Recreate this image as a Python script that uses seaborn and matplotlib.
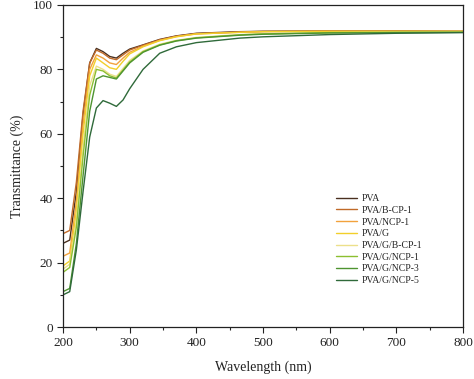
import numpy as np
import pandas as pd
import matplotlib
matplotlib.use("Agg")
import matplotlib.pyplot as plt
import seaborn as sns
from matplotlib.ticker import MultipleLocator

wavelength = [200, 210, 220, 230, 240, 250, 260, 270, 280, 290, 300, 320, 345, 370, 400, 465, 500, 600, 700, 800]

labels = ["PVA", "PVA/B-CP-1", "PVA/NCP-1", "PVA/G", "PVA/G/B-CP-1",
          "PVA/G/NCP-1", "PVA/G/NCP-3", "PVA/G/NCP-5"]

pva        = [26.0, 27.0, 42.0, 66.0, 82.0, 86.5, 85.5, 84.0, 83.5, 85.0, 86.3, 87.6, 89.3, 90.4, 91.2, 91.7, 91.8, 91.9, 91.9, 91.8]
pva_bcp1   = [29.0, 30.0, 45.0, 67.0, 82.0, 86.0, 85.0, 83.5, 83.0, 84.5, 86.0, 87.5, 89.2, 90.3, 91.1, 91.6, 91.8, 91.9, 91.9, 91.8]
pva_ncp1   = [22.0, 23.0, 39.0, 63.0, 80.0, 84.5, 83.5, 82.0, 81.5, 83.5, 85.3, 87.2, 89.0, 90.2, 91.0, 91.5, 91.7, 91.8, 91.8, 91.8]
pva_g      = [19.0, 20.5, 36.0, 60.0, 78.0, 83.5, 82.0, 80.5, 80.0, 82.5, 84.8, 87.0, 88.9, 90.1, 91.0, 91.5, 91.7, 91.8, 91.8, 91.8]
pva_g_bcp1 = [18.0, 19.5, 33.0, 56.0, 75.0, 81.0, 80.0, 78.5, 77.8, 80.3, 82.8, 85.7, 87.8, 89.0, 89.9, 90.8, 91.1, 91.4, 91.5, 91.5]
pva_g_ncp1 = [17.0, 18.5, 31.0, 53.0, 72.0, 80.0, 79.5, 78.0, 77.3, 79.8, 82.3, 85.5, 87.6, 88.9, 89.8, 90.7, 91.0, 91.4, 91.5, 91.5]
pva_g_ncp3 = [11.0, 12.0, 26.0, 47.0, 67.0, 77.0, 78.0, 77.5, 77.0, 79.5, 82.0, 85.3, 87.5, 88.8, 89.7, 90.6, 90.9, 91.3, 91.4, 91.5]
pva_g_ncp5 = [10.0, 11.0, 24.0, 42.0, 59.0, 68.0, 70.3, 69.5, 68.5, 70.5, 74.0, 80.0, 85.0, 87.0, 88.3, 89.7, 90.1, 90.8, 91.2, 91.4]

series = [pva, pva_bcp1, pva_ncp1, pva_g, pva_g_bcp1, pva_g_ncp1, pva_g_ncp3, pva_g_ncp5]
colors = ["#4a3020", "#c06a28", "#f2a23c", "#f2cf2a", "#ece08a",
          "#8cbf30", "#4e9430", "#2f6a3a"]

rows = []
for lab, vals in zip(labels, series):
    for w, v in zip(wavelength, vals):
        rows.append({"Wavelength": w, "T": v, "Sample": lab})
df = pd.DataFrame(rows)

sns.set_style("ticks")
plt.rcParams["font.family"] = ["Liberation Serif", "DejaVu Serif"]

fig = plt.figure(figsize=(4.74, 3.79), dpi=100)
ax = fig.add_axes([0.133, 0.137, 0.844, 0.85])

sns.lineplot(data=df, x="Wavelength", y="T", hue="Sample", hue_order=labels,
             palette=colors, linewidth=1.0, ax=ax, legend=True)

ax.set_xlim(200, 800)
ax.set_ylim(0, 100)
ax.xaxis.set_major_locator(MultipleLocator(100))
ax.xaxis.set_minor_locator(MultipleLocator(50))
ax.yaxis.set_major_locator(MultipleLocator(20))
ax.yaxis.set_minor_locator(MultipleLocator(10))
ax.tick_params(axis="both", which="major", direction="out", length=4, width=0.8, labelsize=9.5, colors="#222222")
ax.tick_params(axis="both", which="minor", direction="out", length=2.5, width=0.8)
for s in ax.spines.values():
    s.set_visible(True)
    s.set_linewidth(0.9)
    s.set_color("#222222")

ax.set_xlabel("Wavelength (nm)", fontsize=10, color="#222222", labelpad=8)
ax.set_ylabel("Transmittance (%)", fontsize=10, color="#222222", labelpad=6)

leg = ax.legend(loc="upper left", bbox_to_anchor=(0.66, 0.44), frameon=False,
                fontsize=7, handlelength=2.2, labelspacing=0.28, handletextpad=0.5)
for h in leg.get_lines():
    h.set_linewidth(1.0)

fig.savefig("out.png", dpi=100)
